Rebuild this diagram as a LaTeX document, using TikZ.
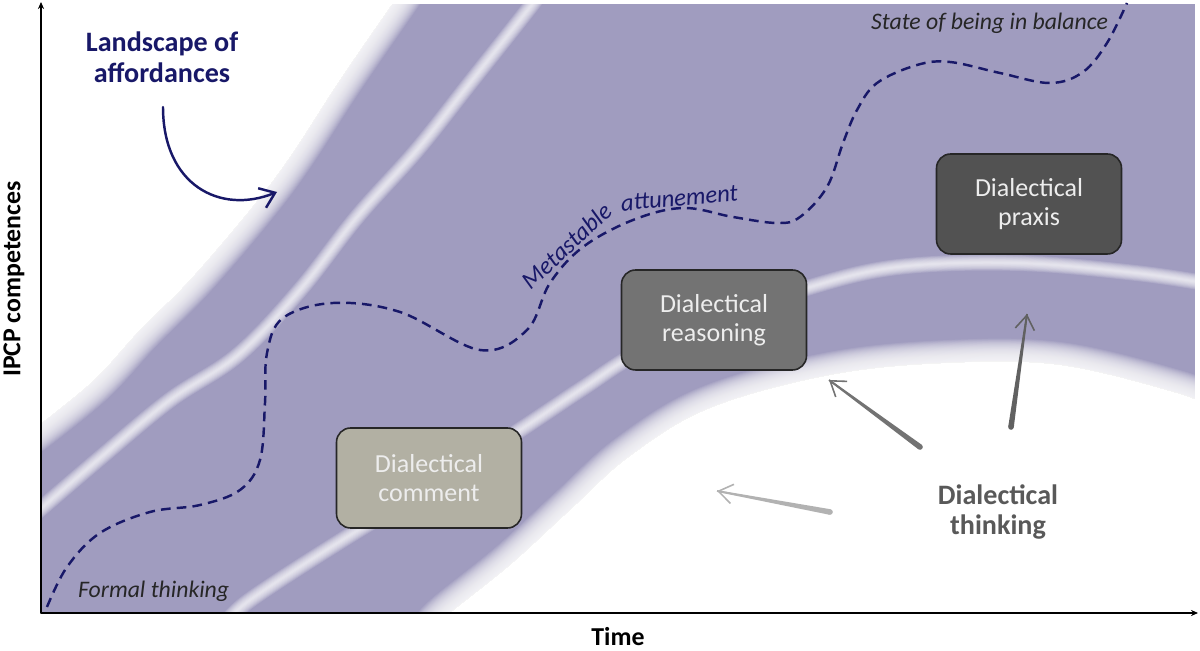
\documentclass[tikz,border=0pt]{standalone}
\usepackage{fontspec}
\setmainfont{Carlito}
\usetikzlibrary{arrows.meta,calc}

\definecolor{lavender}{RGB}{160,156,191}
\definecolor{inkblue}{RGB}{24,24,104}
\definecolor{commentfill}{RGB}{178,176,163}
\definecolor{reasonfill}{RGB}{115,115,115}
\definecolor{praxisfill}{RGB}{82,82,82}

\tikzset{
  stage/.style={draw=black!85, line width=0.9pt, rounded corners=8pt,
    minimum width=3.7cm, minimum height=2cm, align=center,
    text=white!93!black, font=\fontsize{14.8}{16.5}\selectfont},
  note/.style={font=\fontsize{13.5}{16}\selectfont\itshape, text=black!85},
  heading/.style={font=\fontsize{16}{17.5}\selectfont\bfseries, align=center},
  axislabel/.style={font=\fontsize{14.7}{17}\selectfont\bfseries},
}

% band edges and seams of the landscape
\def\edgeA{plot[smooth, tension=0.6] coordinates {(30,432) (92,382) (140,330) (190,280) (250,210) (290,157) (340,80) (393,3) (402,-10)}}
\def\seamA{plot[smooth, tension=0.6] coordinates {(30,518) (100,458) (170,400) (238,355) (300,290) (357,217) (417,150) (470,83) (530,7) (540,-8)}}
\def\edgeB{plot[smooth, tension=0.6] coordinates {(435,628) (450,613) (510,565) (570,510) (630,456) (710,408) (830,375) (946,363) (1060,365) (1177,393) (1210,408)}}
\def\seamB{plot[smooth, tension=0.6] coordinates {(225,625) (250,600) (347,537) (450,475) (523,428) (583,388) (640,352) (720,320) (807,288) (898,267) (1017,263) (1136,273) (1210,284)}}

\begin{document}
\begin{tikzpicture}[x=0.02cm, y=-0.02cm, line cap=round, line join=round]
  \useasboundingbox (0,0) rectangle (1200,651);

  % landscape of affordances
  \begin{scope}
    \clip (41,4) rectangle (1195,613);
    \fill[lavender] (41,4) rectangle (1195,613);
    \fill[white] \edgeA -- (30,-10) -- cycle;
    \fill[white] \edgeB -- (1210,628) -- cycle;
    \foreach \w in {1,...,26} {
      \draw[white, line width=\w pt, opacity=0.09] \edgeA;
      \draw[white, line width=\w pt, opacity=0.09] \edgeB;
    }
    \foreach \w in {1,...,9} {
      \draw[white, line width=\w pt, opacity=0.14] \seamA;
      \draw[white, line width=\w pt, opacity=0.14] \seamB;
    }
  \end{scope}

  % axes
  \coordinate (origin) at (41,613);
  \coordinate (ytop) at (41,2);
  \coordinate (xend) at (1198,613);
  \draw[line width=0.75pt, -{Stealth[length=4pt,width=3.5pt]}] (origin) -- (ytop);
  \draw[line width=0.75pt, -{Stealth[length=4pt,width=3.5pt]}] (origin) -- (xend);
  \node[axislabel, rotate=90] (ylabel) at (14,279) {IPCP competences};
  \node[axislabel] (xlabel) at (618,637) {Time};

  % path of attunement
  \draw[inkblue, line width=1.4pt, line cap=butt, dash pattern=on 5.5pt off 3.5pt]
    plot[smooth, tension=0.6] coordinates {(47,607) (67,567) (100,533) (150,512) (200,505) (240,490) (260,460) (265,403) (267,353) (283,318) (333,303) (400,312) (480,350) (527,330) (550,283) (583,247) (633,220) (683,208) (733,217) (777,223) (800,217) (827,187) (843,143) (857,110) (877,83) (917,65) (950,62) (1000,73) (1050,83) (1083,72) (1107,43) (1127,3)};
  \node[note, text=inkblue, font=\fontsize{14}{16}\selectfont\itshape, rotate=43, anchor=base] (meta) at (572,252) {Metastable};
  \node[note, text=inkblue, font=\fontsize{14}{16}\selectfont\itshape, rotate=5, anchor=base] (attune) at (680,206) {attunement};
  \node[note, anchor=base west] (balance) at (865,30) {State of being in balance};
  \node[note, anchor=base west] (formal) at (72,597) {Formal thinking};

  % stages
  \node[stage, fill=commentfill] (comment) at (429,478) {Dialectical\\comment};
  \node[stage, fill=reasonfill] (reasoning) at (714,320) {Dialectical\\reasoning};
  \node[stage, fill=praxisfill] (praxis) at (1029,204) {Dialectical\\praxis};

  % landscape label and its arrow
  \node[heading, text=inkblue] (landscape) at (162,57) {Landscape of\\affordances};
  \coordinate (aff) at (163,107);
  \coordinate (band) at (277,192);
  \draw[inkblue, line width=1.4pt, -{Straight Barb[length=8pt,width=12pt]}]
    (aff) .. controls (163,185) and (220,215) .. (band);

  % dialectical thinking and its arrows
  \node[heading, text=black!65] (thinking) at (998,512) {Dialectical\\thinking};
  \coordinate (t1) at (830,512);
  \coordinate (h1) at (717,491);
  \coordinate (t2) at (920,447);
  \coordinate (h2) at (829,380);
  \coordinate (t3) at (1011,427);
  \coordinate (h3) at (1027,314);
  \fill[black!30] ($(t1)!1.6pt!90:(h1)$) -- ($(h1)!0.5pt!-90:(t1)$) -- ($(h1)!0.5pt!90:(t1)$) -- ($(t1)!1.6pt!-90:(h1)$) -- cycle;
  \fill[black!30] (t1) circle (1.6pt);
  \draw[black!30, line width=0.9pt, -{Straight Barb[length=8pt,width=11pt]}] (t1) -- (h1);
  \fill[black!55] ($(t2)!1.6pt!90:(h2)$) -- ($(h2)!0.5pt!-90:(t2)$) -- ($(h2)!0.5pt!90:(t2)$) -- ($(t2)!1.6pt!-90:(h2)$) -- cycle;
  \fill[black!55] (t2) circle (1.6pt);
  \draw[black!55, line width=0.9pt, -{Straight Barb[length=8pt,width=11pt]}] (t2) -- (h2);
  \fill[black!62] ($(t3)!1.6pt!90:(h3)$) -- ($(h3)!0.5pt!-90:(t3)$) -- ($(h3)!0.5pt!90:(t3)$) -- ($(t3)!1.6pt!-90:(h3)$) -- cycle;
  \fill[black!62] (t3) circle (1.6pt);
  \draw[black!62, line width=0.9pt, -{Straight Barb[length=8pt,width=11pt]}] (t3) -- (h3);
\end{tikzpicture}
\end{document}
